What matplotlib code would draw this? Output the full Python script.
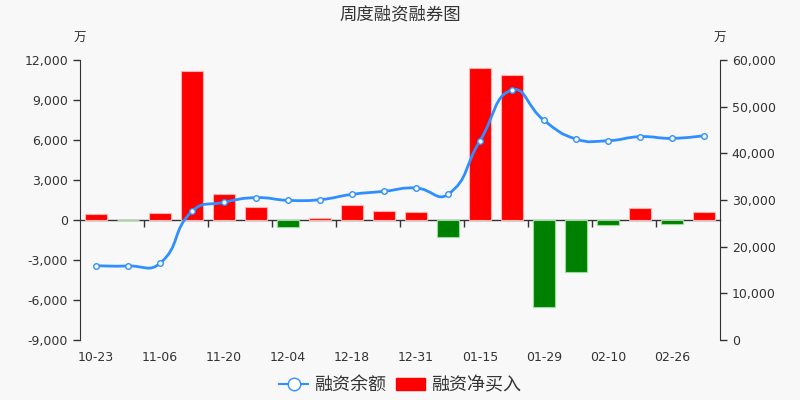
import matplotlib
matplotlib.use('Agg')
import matplotlib.pyplot as plt
import numpy as np
from matplotlib.path import Path
from matplotlib.patches import PathPatch, Patch
from matplotlib.lines import Line2D
from matplotlib.ticker import FuncFormatter

# DejaVu for digits, CJK font picks up the Chinese glyphs
plt.rcParams['font.family'] = ['DejaVu Sans', 'Noto Sans CJK SC']

# Weekly data (万)
dates = ['10-23', '10-30', '11-06', '11-13', '11-20', '11-27', '12-04', '12-11',
         '12-18', '12-25', '12-31', '01-08', '01-15', '01-22', '01-29', '02-05',
         '02-10', '02-19', '02-26', '03-05']
net_buy = [430, -15, 500, 11200, 1950, 950, -550, 125, 1150, 675,
           625, -1250, 11425, 10850, -6525, -3900, -375, 875, -325, 575]
balance = [15930, 15860, 16430, 27570, 29500, 30500, 29930, 30070, 31210, 31860,
           32570, 31210, 42710, 53570, 47070, 43070, 42710, 43570, 43210, 43780]

bg = '#f8f8f8'
txt = '#333333'
line_c = '#2f8fff'

fig = plt.figure(figsize=(8, 4), dpi=100, facecolor=bg)
ax = fig.add_axes([0.1, 0.15, 0.8, 0.7])
ax.set_facecolor(bg)
x = np.arange(len(dates))

# bars
colors = ['#ff0000' if v >= 0 else '#008000' for v in net_buy]
edges = ['#ffb3b3' if v >= 0 else '#99dd99' for v in net_buy]
ax.bar(x, net_buy, width=0.7, color=colors, edgecolor=edges, linewidth=0.8, zorder=2)

ax.set_xlim(-0.5, len(dates) - 0.5)
ax.set_ylim(-9000, 12000)
ax.set_yticks(np.arange(-9000, 12001, 3000))
ax.yaxis.set_major_formatter(FuncFormatter(lambda v, p: f'{int(v):,}'))
ax.set_xticks(x[::2])
ax.set_xticklabels(dates[::2])
ax.tick_params(axis='x', length=0, pad=8, labelsize=9, colors=txt)
ax.tick_params(axis='y', direction='out', length=5, width=1, color=txt, labelsize=9, labelcolor=txt)
for s in ['top', 'right', 'bottom']:
    ax.spines[s].set_visible(False)
ax.spines['left'].set_color(txt)

# zero axis line with ticks at category boundaries
sec = ax.secondary_xaxis(9 / 21)
sec.set_xticks(np.arange(1.5, len(dates) - 1, 2))
sec.set_xticklabels([])
sec.tick_params(axis='x', direction='out', length=5, width=1, color=txt)
sec.spines['bottom'].set_color(txt)
sec.spines['bottom'].set_linewidth(1)

# right axis: balance line
ax2 = ax.twinx()
ax2.set_ylim(0, 60000)
ax2.set_yticks(np.arange(0, 60001, 10000))
ax2.yaxis.set_major_formatter(FuncFormatter(lambda v, p: f'{int(v):,}'))
ax2.tick_params(axis='y', direction='out', length=5, width=1, color=txt, labelsize=9, labelcolor=txt)
for s in ['top', 'left', 'bottom']:
    ax2.spines[s].set_visible(False)
ax2.spines['right'].set_color(txt)

# smoothed curve (echarts-style bezier, smooth=0.5) computed in pixel space
pts = ax2.transData.transform(np.column_stack([x, balance]))
n = len(pts)
cp_in, cp_out = [], []
for i in range(n):
    p = pts[i]
    if i == 0 or i == n - 1:
        cp_in.append(p)
        cp_out.append(p)
        continue
    v = (pts[i + 1] - pts[i - 1]) * 0.5
    d0 = np.hypot(*(p - pts[i - 1]))
    d1 = np.hypot(*(p - pts[i + 1]))
    s = d0 + d1
    cp_in.append(p - v * d0 / s)
    cp_out.append(p + v * d1 / s)
verts = [pts[0]]
codes = [Path.MOVETO]
for i in range(n - 1):
    verts += [cp_out[i], cp_in[i + 1], pts[i + 1]]
    codes += [Path.CURVE4] * 3
inv = ax2.transData.inverted()
path = Path(inv.transform(np.array(verts)), codes)
ax2.add_patch(PathPatch(path, facecolor='none', edgecolor=line_c, linewidth=2, zorder=3))
ax2.plot(x, balance, linestyle='none', marker='o', markersize=4, markerfacecolor='white',
         markeredgecolor=line_c, markeredgewidth=1, zorder=4)

# title, units
fig.text(0.5, 0.965, '周度融资融券图', ha='center', va='center', fontsize=12.5, color=txt)
fig.text(0.1, 0.905, '万', ha='center', va='center', fontsize=9, color=txt)
fig.text(0.9, 0.905, '万', ha='center', va='center', fontsize=9, color=txt)

# legend
handles = [
    Line2D([0], [0], color=line_c, linewidth=1.5, marker='o', markersize=9,
           markerfacecolor='white', markeredgecolor=line_c),
    Patch(facecolor='#ff0000', edgecolor='#ff0000'),
]
fig.legend(handles, ['融资余额', '融资净买入'], loc='center', bbox_to_anchor=(0.5, 0.037),
           ncol=2, frameon=False, fontsize=13, labelcolor=txt, handlelength=1.6,
           handletextpad=0.3, columnspacing=0.6)

fig.savefig('out.png', dpi=100, facecolor=bg)
